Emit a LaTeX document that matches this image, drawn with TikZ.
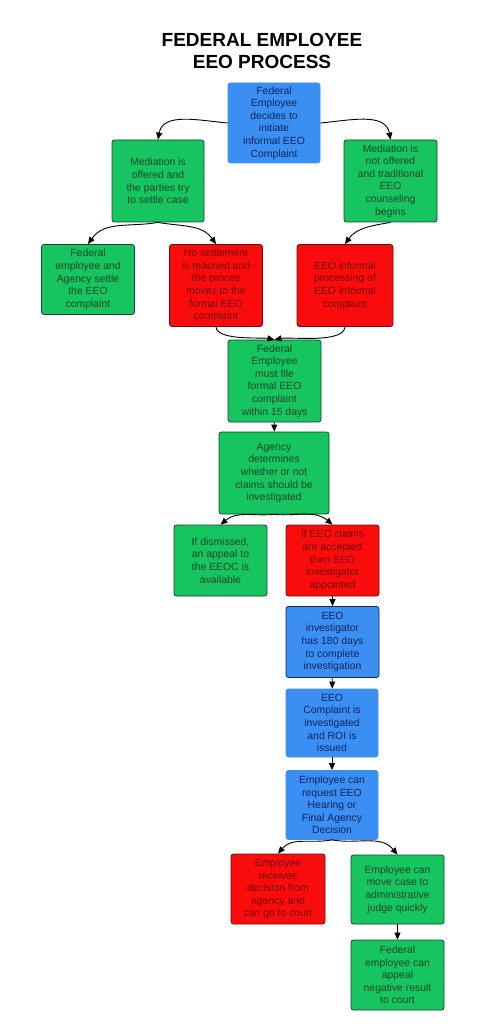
\documentclass[tikz,border=0pt]{standalone}
\usepackage{fontspec}
\setmainfont{Liberation Sans}
\usetikzlibrary{arrows.meta}

\definecolor{eeogreen}{RGB}{22,196,96}
\definecolor{eeored}{RGB}{250,12,12}
\definecolor{eeoblue}{RGB}{59,143,242}
\definecolor{greentext}{RGB}{12,72,36}
\definecolor{redtext}{RGB}{115,0,0}
\definecolor{bluetext}{RGB}{12,36,95}
\definecolor{greenline}{RGB}{20,70,40}
\definecolor{redline}{RGB}{110,10,10}
\definecolor{blueline}{RGB}{20,40,80}

\begin{document}
\begin{tikzpicture}[x=1pt, y=1pt,
			box/.style={rectangle, rounded corners=2.5pt, align=center, inner sep=0pt, line width=0.8pt,
				font=\fontsize{10.4}{12.6}\selectfont},
			greenbox/.style={box, fill=eeogreen, draw=greenline, text=greentext},
			redbox/.style={box, fill=eeored, draw=redline, text=redtext},
			bluebox/.style={box, fill=eeoblue, draw=eeoblue, text=bluetext},
			link/.style={-{Triangle[length=7pt,width=6pt]}, line width=0.9pt}]

		\useasboundingbox[fill=white] (0,0) rectangle (497,-1024);

		\node[font=\bfseries\fontsize{19}{22}\selectfont, align=center] (title) at (262,-51) {FEDERAL EMPLOYEE\\EEO PROCESS};

		\node[bluebox, minimum width=92pt, minimum height=80pt] (1) at (274,-123) {Federal\\Employee\\decides to\\initiate\\informal EEO\\Complaint};
		\node[greenbox, minimum width=92pt, minimum height=82pt] (2) at (158,-181) {Mediation is\\offered and\\the parties try\\to settle case};
		\node[greenbox, minimum width=93pt, minimum height=82pt] (3) at (390.5,-181) {Mediation is\\not offered\\and traditional\\EEO\\counseling\\begins};
		\node[greenbox, minimum width=93pt, minimum height=70pt] (4) at (88,-279.5) {Federal\\employee and\\Agency settle\\the EEO\\complaint};
		\node[redbox, minimum width=93pt, minimum height=82pt] (5) at (216,-285.5) {No settlement\\is reached and\\the proces\\moves to the\\formal EEO\\complaint};
		\node[redbox, minimum width=96pt, minimum height=82pt] (6) at (345,-285.5) {EEO informal\\processing of\\EEO informal\\complaint};
		\node[greenbox, minimum width=93pt, minimum height=82pt] (7) at (274.5,-381) {Federal\\Employee\\must file\\formal EEO\\complaint\\within 15 days};
		\node[greenbox, minimum width=110pt, minimum height=82pt] (8) at (274,-473) {Agency\\determines\\whether or not\\claims should be\\investigated};
		\node[greenbox, minimum width=93pt, minimum height=71pt] (9) at (220.5,-560.5) {If dismissed,\\an appeal to\\the EEOC is\\available};
		\node[redbox, minimum width=93pt, minimum height=71pt] (10) at (332.5,-560.5) {If EEO claims\\are accepted\\then EEO\\investigator\\appointed};
		\node[bluebox, draw=blueline, minimum width=93pt, minimum height=71pt] (11) at (332.5,-642) {EEO\\investigator\\has 180 days\\to complete\\investigation};
		\node[bluebox, minimum width=92pt, minimum height=68pt] (12) at (332,-723) {EEO\\Complaint is\\investigated\\and ROI is\\issued};
		\node[bluebox, minimum width=92pt, minimum height=69pt] (13) at (332,-805) {Employee can\\request EEO\\Hearing or\\Final Agency\\Decision};
		\node[redbox, minimum width=94pt, minimum height=70pt] (14) at (278,-889) {Employee\\receives\\decision from\\agency and\\can go to court};
		\node[greenbox, minimum width=93pt, minimum height=69pt] (15) at (397.5,-889.5) {Employee can\\move case to\\administrative\\judge quickly};
		\node[greenbox, minimum width=93pt, minimum height=70pt] (16) at (397.5,-975) {Federal\\employee can\\appeal\\negative result\\to court};

		\draw[link] (1.west) to[out=175, in=80] (2.north);
		\draw[link] (1.east) to[out=5, in=100] (3.north);
		\draw[link] (2.south) to[out=190, in=55] (4.north);
		\draw[link] (2.south) to[out=-10, in=125] (5.north);
		\draw[link] (3.south) to[out=190, in=55] (6.north);
		\draw[link] (5.south) to[out=-85, in=170, looseness=0.6] (7.north);
		\draw[link] (6.south) to[out=-95, in=10, looseness=0.6] (7.north);
		\draw[link] (7) -- (8);
		\draw[link] (8.south) to[out=185, in=40] (9.north);
		\draw[link] (8.south) to[out=-5, in=140] (10.north);
		\draw[link] (10) -- (11);
		\draw[link] (11) -- (12);
		\draw[link] (12) -- (13);
		\draw[link] (13.south) to[out=190, in=50] (14.north);
		\draw[link] (13.south) to[out=-10, in=130] (15.north);
		\draw[link] (15) -- (16);
	\end{tikzpicture}
\end{document}
